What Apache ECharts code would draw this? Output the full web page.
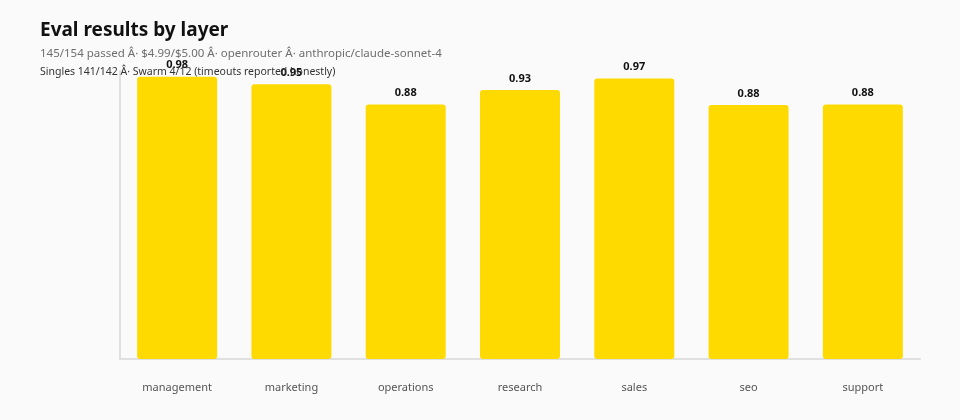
<!DOCTYPE html>
<html>
<head>
<meta charset="utf-8">
<script src="https://cdn.jsdelivr.net/npm/echarts@6/dist/echarts.min.js"></script>
<style>
html,body{margin:0;padding:0;background:#fafafa;}
#chart{width:960px;height:420px;}
</style>
</head>
<body>
<div id="chart"></div>
<script>
const categories = ['management','marketing','operations','research','sales','seo','support'];
const scores = [0.980, 0.954, 0.884, 0.934, 0.974, 0.882, 0.884];
const titleText = 'Eval results by layer';
const subtitleText = '145/154 passed Â· $4.99/$5.00 Â· openrouter Â· anthropic/claude-sonnet-4';
const noteText = 'Singles 141/142 Â· Swarm 4/12 (timeouts reported honestly)';

const chart = echarts.init(document.getElementById('chart'));
const font = 'Noto Sans, sans-serif';
chart.setOption({
  backgroundColor: '#fafafa',
  animation: false,
  title: [
    { text: titleText, left: 35, top: 16, textStyle: { fontSize: 19, fontWeight: 'bold', color: '#111', fontFamily: font } },
    { text: subtitleText, left: 35, top: 43, textStyle: { fontSize: 11.5, fontWeight: 'normal', color: '#6e6e6e', fontFamily: font } },
    { text: noteText, left: 35, top: 62, textStyle: { fontSize: 10.5, fontWeight: 'normal', color: '#333', fontFamily: font } }
  ],
  grid: { left: 120, right: 40, top: 71, bottom: 61 },
  xAxis: {
    type: 'category',
    data: categories,
    axisLine: { lineStyle: { color: '#e0e0e0', width: 2 } },
    axisTick: { show: false },
    axisLabel: { color: '#555', fontSize: 11, margin: 23, fontFamily: font }
  },
  yAxis: {
    type: 'value',
    min: 0, max: 1,
    axisLine: { show: true, lineStyle: { color: '#e0e0e0', width: 2 } },
    axisTick: { show: false },
    axisLabel: { show: false },
    splitLine: { show: false }
  },
  series: [{
    type: 'bar',
    data: scores,
    barWidth: '70%',
    itemStyle: { color: '#FFDA00', borderRadius: [3,3,3,3] },
    label: {
      show: true, position: 'top', distance: 6,
      formatter: p => p.value.toFixed(2),
      fontSize: 11, fontWeight: 'bold', color: '#111', fontFamily: font
    }
  }]
});
</script>
</body>
</html>
